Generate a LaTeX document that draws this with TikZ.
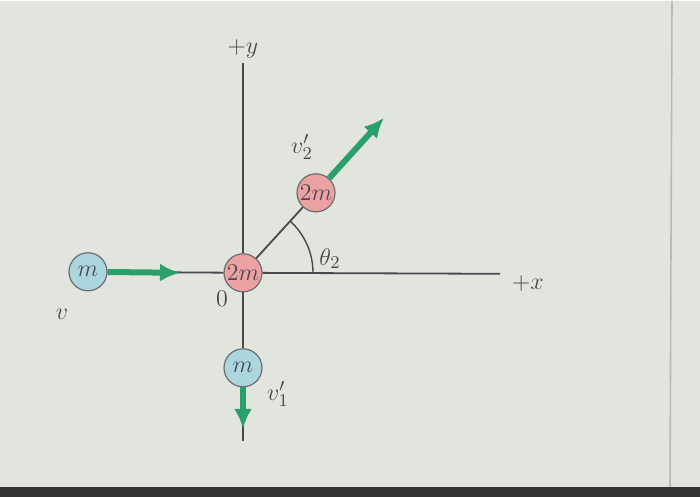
\documentclass[tikz,border=0pt]{standalone}
\usetikzlibrary{arrows.meta}
\definecolor{bg}{RGB}{226,228,222}
\definecolor{ballblue}{RGB}{172,214,222}
\definecolor{ballred}{RGB}{236,162,162}
\definecolor{vgreen}{RGB}{42,158,108}
\definecolor{ink}{RGB}{72,72,78}

\begin{document}
\begin{tikzpicture}[x=0.5pt,y=-0.5pt,
  ball/.style={circle,draw=ink!80,text=ink,line width=0.6pt,minimum size=19pt,inner sep=0pt,font=\fontsize{13}{15}\selectfont},
  vel/.style={vgreen,line width=3pt,-{Latex[length=10pt,width=9pt]}},
  axis/.style={ink,line width=0.9pt},
  lbl/.style={ink,font=\fontsize{12.5}{14}\selectfont}]
\fill[bg] (0,0) rectangle (700,496);
\fill[black!80] (0,486) rectangle (700,496);
\draw[gray!55,line width=0.8pt] (672,0) -- (670,486);

% balls
\node[ball,fill=ballblue] (b0) at (88,271) {$m$};
\node[ball,fill=ballred] (b) at (243,272) {$2m$};
\node[ball,fill=ballred] (b2) at (316,192) {$2m$};
\node[ball,fill=ballblue] (b1) at (243,367) {$m$};

% axes
\coordinate (yt) at (243,62);
\coordinate (yb) at (243,440);
\coordinate (xr) at (500,273);
\draw[axis] (yt) -- (b);
\draw[axis] (b) -- (b1);
\draw[axis] (b1) -- (yb);
\draw[axis] (b0) -- (b);
\draw[axis] (b) -- (xr);
\draw[axis] (b) -- (b2);

% angle
\draw[axis,line width=0.7pt] (b.center) ++(70,0) arc[start angle=0,end angle=-47.6,radius=70];

% velocities
\coordinate (va) at (180,272);
\coordinate (v2tip) at (384,117);
\coordinate (v1tip) at (243,428);
\draw[vel] (b0) -- (va);
\draw[vel] (b2) -- (v2tip);
\draw[vel] (b1) -- (v1tip);

% labels
\node[lbl] (ly) at (243,48) {$+y$};
\node[lbl] (lx) at (528,283) {$+x$};
\node[lbl] (lo) at (222,298) {$0$};
\node[lbl] (lv) at (62,314) {$v$};
\node[lbl] (lv2) at (302,146) {$v_2'$};
\node[lbl] (lth) at (330,258) {$\theta_2$};
\node[lbl] (lv1) at (278,393) {$v_1'$};
\end{tikzpicture}
\end{document}
